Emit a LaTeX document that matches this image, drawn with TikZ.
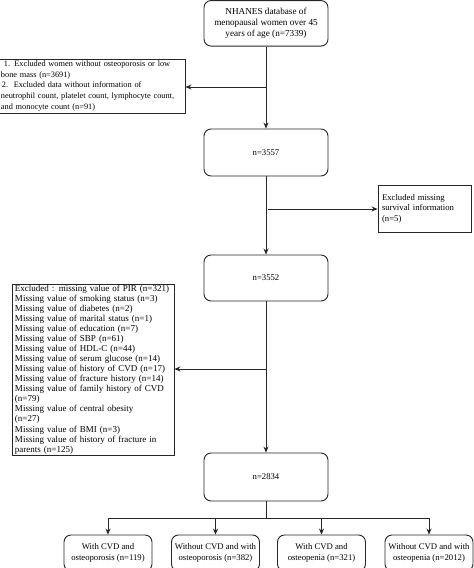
\documentclass[tikz,border=0pt]{standalone}
\usepackage{fontspec}
\setmainfont{Liberation Serif}
\usetikzlibrary{arrows.meta}
\begin{document}
\begin{tikzpicture}[x=1pt,y=-1pt,
  rbox/.style={draw=black!85, rounded corners=7pt, line width=0.9pt, align=center, inner sep=0pt},
  ebox/.style={draw=black!85, line width=0.9pt, align=left, inner ysep=0pt},
  arr/.style={draw=black!85, -{Stealth[length=6pt,width=5pt]}, line width=0.8pt},
  ln/.style={draw=black!85, line width=0.8pt},
  font=\fontsize{8.7}{10.5}\selectfont]
\useasboundingbox (0,0) rectangle (474,568);

% main boxes
\node[rbox, minimum width=124pt, minimum height=45.5pt, font=\fontsize{9.2}{10.6}\selectfont] (top) at (266,23.3)
  {NHANES database of\\menopausal women over 45\\years of age (n=7339)};
\node[rbox, minimum width=124pt, minimum height=47pt] (b1) at (266,152.5) {n=3557};
\node[rbox, minimum width=124pt, minimum height=46pt] (b2) at (266,278) {n=3552};
\node[rbox, minimum width=124pt, minimum height=48pt] (b3) at (266,477) {n=2834};

% exclusion boxes
\node[ebox, minimum width=187pt, minimum height=54pt, inner xsep=3pt, text width=181pt,
      font=\fontsize{8.3}{10.8}\selectfont] (e1) at (91.5,86)
  {\hspace{3pt}1. Excluded women without osteoporosis or low\\
   bone mass (n=3691)\\
   \hspace{1pt}2.\ \ Excluded data without information of\\
   neutrophil count, platelet count, lymphocyte count,\\
   and monocyte count (n=91)};
\node[ebox, minimum width=93pt, minimum height=47pt, inner xsep=4pt, text width=85pt] (e2) at (424.5,208.5)
  {Excluded missing\\survival information\\(n=5)};
\node[ebox, minimum width=162pt, minimum height=171pt, inner xsep=3pt, text width=156pt,
      font=\fontsize{9}{10.05}\selectfont] (e3) at (93,369.5)
  {Excluded : missing value of PIR (n=321)\\
   Missing value of smoking status (n=3)\\
   Missing value of diabetes (n=2)\\
   Missing value of marital status (n=1)\\
   Missing value of education (n=7)\\
   Missing value of SBP (n=61)\\
   Missing value of HDL-C (n=44)\\
   Missing value of serum glucose (n=14)\\
   Missing value of history of CVD (n=17)\\
   Missing value of fracture history (n=14)\\
   Missing value of family history of CVD\\
   (n=79)\\
   Missing value of central obesity\\
   (n=27)\\
   Missing value of BMI (n=3)\\
   Missing value of history of fracture in\\
   parents (n=125)};

% bottom boxes
\node[rbox, minimum width=88pt, minimum height=36pt] (g1) at (108,553) {With CVD and\\osteoporosis (n=119)};
\node[rbox, minimum width=88pt, minimum height=36pt] (g2) at (215.5,553) {Without CVD and with\\osteoporosis (n=382)};
\node[rbox, minimum width=88pt, minimum height=36pt] (g3) at (321.5,553) {With CVD and\\osteopenia (n=321)};
\node[rbox, minimum width=88pt, minimum height=36pt] (g4) at (429,553) {Without CVD and with\\osteopenia (n=2012)};

% main flow
\draw[arr] (top) -- (b1);
\draw[arr] (b1) -- (b2);
\draw[arr] (b2) -- (b3);

\coordinate (j1) at (266,87);
\coordinate (j2) at (268,209);
\coordinate (j3) at (266,369);
\draw[arr] (j1) -- (j1 -| e1.east);
\draw[arr] (j2) -- (j2 -| e2.west);
\draw[arr] (j3) -- (j3 -| e3.east);

% branching
\coordinate (br) at (266,518);
\draw[ln] (b3.south) -- (br);
\draw[ln] (br -| g1) -- (br -| g4);
\draw[arr] (br -| g1) -- (g1.north);
\draw[arr] (br -| g2) -- (g2.north);
\draw[arr] (br -| g3) -- (g3.north);
\draw[arr] (br -| g4) -- (g4.north);
\end{tikzpicture}
\end{document}
